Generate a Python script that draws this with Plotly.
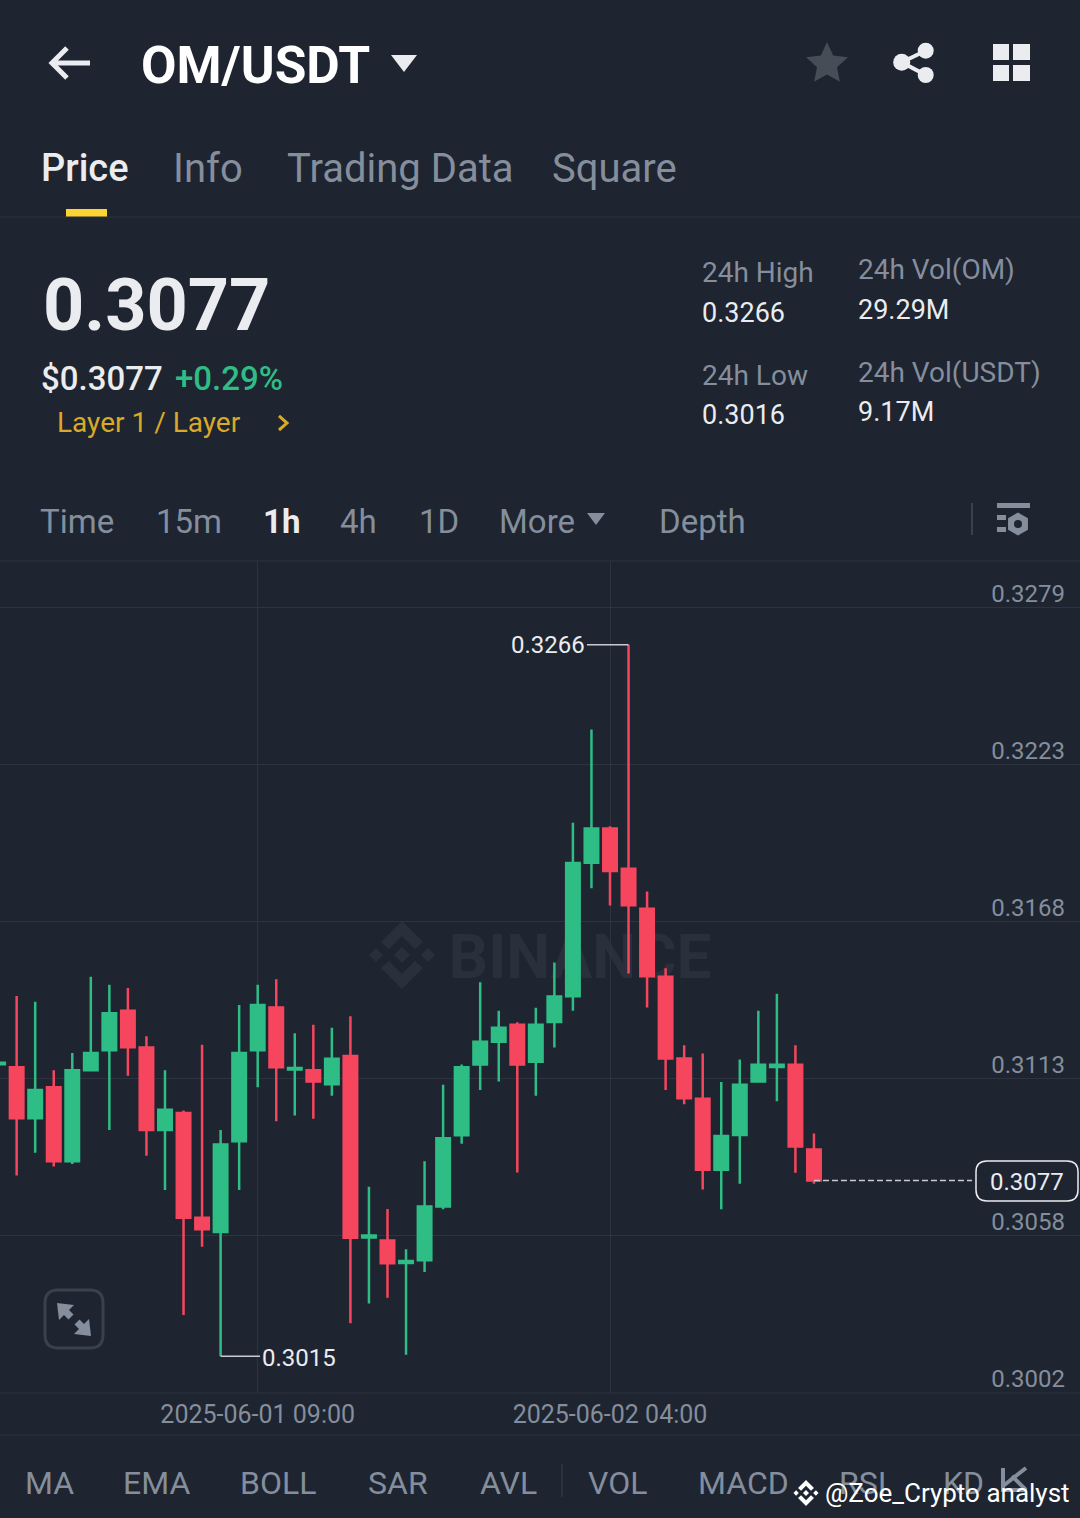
import math
import pandas as pd
import plotly.graph_objects as go

# hourly candles, first one sits just off the left edge
times = pd.date_range("2025-05-31 19:00", periods=45, freq="h")
opens = [0.31180, 0.31169, 0.30989, 0.31099, 0.30838, 0.31159, 0.31229, 0.31369, 0.31239, 0.30948,
         0.31008, 0.30638, 0.30588, 0.30908, 0.31229, 0.31380, 0.31161, 0.31159, 0.31109, 0.31209,
         0.30569, 0.30558, 0.30479, 0.30488, 0.30678, 0.30929, 0.31179, 0.31259, 0.31319, 0.31189,
         0.31329, 0.31420, 0.31891, 0.32012, 0.31870, 0.31729, 0.31489, 0.31200, 0.31058, 0.30808,
         0.30930, 0.31119, 0.31170, 0.31178, 0.30879]
highs = [0.31250, 0.31421, 0.31400, 0.31159, 0.31220, 0.31489, 0.31460, 0.31449, 0.31279, 0.31159,
         0.31017, 0.31249, 0.30948, 0.31389, 0.31460, 0.31480, 0.31289, 0.31319, 0.31309, 0.31349,
         0.30748, 0.30669, 0.30527, 0.30838, 0.31108, 0.31179, 0.31469, 0.31369, 0.31328, 0.31379,
         0.31539, 0.32032, 0.32361, 0.32020, 0.32660, 0.31789, 0.31519, 0.31247, 0.31218, 0.31117,
         0.31197, 0.31369, 0.31429, 0.31247, 0.30936]
lows = [0.31100, 0.30787, 0.30868, 0.30819, 0.30828, 0.31159, 0.30948, 0.31139, 0.30857, 0.30736,
        0.30295, 0.30536, 0.30150, 0.30736, 0.31099, 0.30979, 0.30999, 0.30988, 0.31069, 0.30266,
        0.30336, 0.30356, 0.30155, 0.30447, 0.30668, 0.30899, 0.31089, 0.31119, 0.30798, 0.31069,
        0.31239, 0.31369, 0.31801, 0.31740, 0.31500, 0.31380, 0.31089, 0.31039, 0.30738, 0.30668,
        0.30758, 0.31119, 0.31049, 0.30797, 0.30758]
closes = [0.31185, 0.30989, 0.31089, 0.30838, 0.31159, 0.31220, 0.31360, 0.31240, 0.30948, 0.31019,
          0.30638, 0.30598, 0.30897, 0.31220, 0.31389, 0.31169, 0.31167, 0.31119, 0.31199, 0.30568,
          0.30576, 0.30478, 0.30486, 0.30678, 0.30919, 0.31169, 0.31259, 0.31309, 0.31179, 0.31319,
          0.31419, 0.31890, 0.32012, 0.31862, 0.31741, 0.31490, 0.31200, 0.31060, 0.30808, 0.30927,
          0.31108, 0.31178, 0.31178, 0.30890, 0.30770]

price_ticks = [0.30020, 0.30574, 0.31128, 0.31682, 0.32236, 0.32790]
price_labels = ["0.3002", "0.3058", "0.3113", "0.3168", "0.3223", "0.3279"]
time_ticks = ["2025-06-01 09:00", "2025-06-02 04:00"]
last_price = 0.3077
day_high = 0.3266
day_low = 0.3015

BG = "#1e2430"
GRID = "#2e343f"
GREY = "#848e9c"
WHITE = "#eaecef"
GREEN = "#2ebd85"
RED = "#f6465d"
FONT = "Roboto"

W, H = 1080, 1518
PX_PER_HOUR = 18.542
t_anchor = pd.Timestamp("2025-06-01 09:00")


def px_time(x):
    return t_anchor + pd.Timedelta(hours=(x - 257.7) / PX_PER_HOUR)


def fx(x):
    return x / W


def fy(y):
    return 1 - y / H


def poly(points, close=True):
    d = "M" + " L".join(f"{fx(x):.5f} {fy(y):.5f}" for x, y in points)
    return d + (" Z" if close else "")


def rrect(x0, y0, x1, y1, r):
    c = lambda x, y: f"{fx(x):.5f} {fy(y):.5f}"
    return (f"M{c(x0 + r, y0)} L{c(x1 - r, y0)} Q{c(x1, y0)} {c(x1, y0 + r)} L{c(x1, y1 - r)} "
            f"Q{c(x1, y1)} {c(x1 - r, y1)} L{c(x0 + r, y1)} Q{c(x0, y1)} {c(x0, y1 - r)} "
            f"L{c(x0, y0 + r)} Q{c(x0, y0)} {c(x0 + r, y0)} Z")


shapes = []


def fill_shape(d, color, layer="above"):
    shapes.append(dict(type="path", path=d, xref="paper", yref="paper", fillcolor=color,
                       line=dict(width=0), layer=layer))


def stroke_shape(d, color, width):
    shapes.append(dict(type="path", path=d, xref="paper", yref="paper",
                       line=dict(color=color, width=width)))


def hline(y, x0=0, x1=W, color=GRID, width=1):
    stroke_shape(poly([(x0, y), (x1, y)], close=False), color, width)


def binance_logo(cx, cy, s, color, layer="above"):
    fill_shape(poly([(cx, cy - 8 * s), (cx + 8 * s, cy), (cx, cy + 8 * s), (cx - 8 * s, cy)]), color, layer)
    for side in (-1, 1):
        ox = cx + side * 26 * s
        fill_shape(poly([(ox, cy - 7 * s), (ox + 7 * s, cy), (ox, cy + 7 * s), (ox - 7 * s, cy)]), color, layer)
        oy = side * s
        fill_shape(poly([(cx, cy + 34 * oy), (cx + 21 * s, cy + 13 * oy), (cx + 13 * s, cy + 6 * oy),
                         (cx, cy + 19 * oy), (cx - 13 * s, cy + 6 * oy), (cx - 21 * s, cy + 13 * oy)]),
                   color, layer)


annotations = []


def label(text, x, y, size, color=GREY, anchor="left", weight=400):
    # left aligned annotations land about 2px right of the asked position
    x = x - 2 if anchor == "left" else x
    annotations.append(dict(text=text, x=fx(x), y=fy(y), xref="paper", yref="paper", showarrow=False,
                            xanchor=anchor, yanchor="middle", borderpad=0,
                            font=dict(family=FONT, size=size, color=color, weight=weight)))


# header
stroke_shape(poly([(90, 63), (52, 63)], close=False), WHITE, 5)
stroke_shape(poly([(67, 48), (52, 63), (67, 78)], close=False), WHITE, 5)
label("OM/USDT", 142, 65, 51.5, "#ffffff", weight=700)
fill_shape(poly([(391, 55), (417, 55), (404, 72)]), WHITE)
star = [(827 + (22 if i % 2 == 0 else 10.5) * math.sin(i * math.pi / 5),
         64 - (22 if i % 2 == 0 else 10.5) * math.cos(i * math.pi / 5)) for i in range(10)]
fill_shape(poly(star), "#474d57")
stroke_shape(poly([(925.7, 50.7), (901.7, 62.3), (925.7, 75)], close=False), WHITE, 4)
for cx, cy, r in [(925.7, 50.7, 8), (901.7, 62.3, 8.5), (925.7, 75, 8)]:
    shapes.append(dict(type="circle", xref="paper", yref="paper", x0=fx(cx - r), x1=fx(cx + r),
                       y0=fy(cy + r), y1=fy(cy - r), fillcolor=WHITE, line=dict(width=0)))
for x0, x1 in [(993, 1009), (1013, 1030)]:
    for y0, y1 in [(44, 60), (65, 81)]:
        fill_shape(poly([(x0, y0), (x1, y0), (x1, y1), (x0, y1)]), WHITE)

# page tabs
label("Price", 42, 168, 38, WHITE, weight=500)
label("Info", 174, 168, 40)
label("Trading Data", 288, 168, 40)
label("Square", 553, 168, 40)
fill_shape(poly([(66, 209), (107, 209), (107, 217), (66, 217)]), "#fcd535")
hline(217)

# price block
label("0.3077", 44, 305, 72, WHITE, weight=700)
label("$0.3077", 42, 378, 33, WHITE, weight=500)
label("+0.29%", 176, 378, 33, GREEN, weight=500)
label("Layer 1 / Layer", 58, 423, 28, "#d9a928")
stroke_shape(poly([(279, 416), (287, 423), (279, 430)], close=False), "#d9a928", 3)
label("24h High", 703, 273, 28)
label("0.3266", 703, 313, 27, WHITE)
label("24h Low", 703, 375, 28)
label("0.3016", 703, 415, 27, WHITE)
label("24h Vol(OM)", 859, 270, 28)
label("29.29M", 859, 310, 27, WHITE)
label("24h Vol(USDT)", 859, 372, 28)
label("9.17M", 859, 412, 27, WHITE)

# interval tabs
label("Time", 41, 521, 33)
label("15m", 157, 521, 33)
label("1h", 264, 521, 33, WHITE, weight=700)
label("4h", 341, 521, 33)
label("1D", 420, 521, 33)
label("More", 500, 521, 33)
fill_shape(poly([(587, 513), (605, 513), (596, 525)]), GREY)
label("Depth", 660, 521, 33)
stroke_shape(poly([(972, 503), (972, 535)], close=False), "#3a414d", 2)
fill_shape(poly([(997, 503), (1030, 503), (1030, 508), (997, 508)]), GREY)
fill_shape(poly([(997, 515), (1006, 515), (1006, 520), (997, 520)]), GREY)
fill_shape(poly([(997, 527), (1006, 527), (1006, 532), (997, 532)]), GREY)
hexagon = [(1018 + 11.5 * math.sin(i * math.pi / 3), 524 - 11.5 * math.cos(i * math.pi / 3)) for i in range(6)]
fill_shape(poly(hexagon), GREY)
shapes.append(dict(type="circle", xref="paper", yref="paper", x0=fx(1014), x1=fx(1022),
                   y0=fy(528), y1=fy(520), fillcolor=BG, line=dict(width=0)))
hline(561)
hline(1393)

# watermark behind the candles
binance_logo(402, 955, 1, "#2a303b", layer="below")
shapes.append(dict(type="rect", xref="paper", yref="paper", x0=fx(450), x1=fx(710), y0=fy(982), y1=fy(922),
                   line=dict(width=0), layer="below",
                   label=dict(text="BINANCE", textposition="middle center",
                              font=dict(family=FONT, size=62, color="#2a303b", weight=700))))

# leaders and last price marker, tied to the data
shapes.append(dict(type="line", xref="x", yref="y", x0="2025-06-02 05:00", x1=px_time(587), y0=day_high, y1=day_high,
                   line=dict(color="#c8ccd2", width=1.5)))
shapes.append(dict(type="line", xref="x", yref="y", x0="2025-06-01 07:00", x1=px_time(260), y0=day_low, y1=day_low,
                   line=dict(color="#c8ccd2", width=1.5)))
shapes.append(dict(type="line", xref="x", yref="y", x0=times[-1], x1=px_time(972), y0=last_price, y1=last_price,
                   line=dict(color="#c8ccd2", width=1.5, dash="6px,3px")))
annotations.append(dict(text=str(day_high), x=px_time(586), y=day_high, xref="x", yref="y", showarrow=False,
                        xanchor="right", yanchor="middle", borderpad=0, font=dict(family=FONT, size=24, color=WHITE)))
annotations.append(dict(text=str(day_low), x=px_time(261), y=day_low, xref="x", yref="y", showarrow=False, yshift=-2,
                        xanchor="left", yanchor="middle", borderpad=0, font=dict(family=FONT, size=24, color=WHITE)))
stroke = rrect(976, 1161, 1078, 1201, 11)
shapes.append(dict(type="path", path=stroke, xref="paper", yref="paper", fillcolor=BG,
                   line=dict(color=WHITE, width=1.5)))
label(str(last_price), 1027, 1182, 24, WHITE, anchor="center")

# expand button
stroke_shape(rrect(45, 1290, 103, 1348, 13), "#3a414d", 3)
fill_shape(poly([(57, 1303), (74, 1305), (59, 1320)]), GREY)
stroke_shape(poly([(63, 1309), (71, 1317)], close=False), GREY, 7)
fill_shape(poly([(91, 1336), (74, 1334), (89, 1319)]), GREY)
stroke_shape(poly([(85, 1330), (77, 1322)], close=False), GREY, 7)

# indicator tabs
hline(1435)
label("MA", 26, 1483, 32)
label("EMA", 124, 1483, 32)
label("BOLL", 241, 1483, 32)
label("SAR", 369, 1483, 32)
label("AVL", 481, 1483, 32)
label("VOL", 589, 1483, 32)
label("MACD", 699, 1483, 32)
label("RSI", 840, 1483, 32)
label("KD", 944, 1483, 32)
stroke_shape(poly([(562, 1464), (562, 1497)], close=False), "#2c323d", 2)
stroke_shape(poly([(1003, 1468), (1003, 1490), (1027, 1490)], close=False), GREY, 4)
stroke_shape(poly([(1003, 1486), (1026, 1468)], close=False), GREY, 4)
stroke_shape(poly([(1012, 1476), (1026, 1490)], close=False), GREY, 4)

# repost credit on top of the tabs
binance_logo(806, 1493, 0.38, "#ffffff")
label("@Zoe_Crypto analyst", 826, 1493, 26, "#ffffff")

fig = go.Figure()
fig.add_trace(go.Candlestick(
    x=times,
    open=opens,
    high=highs,
    low=lows,
    close=closes,
    increasing=dict(line=dict(color=GREEN, width=2.5), fillcolor=GREEN),
    decreasing=dict(line=dict(color=RED, width=2.5), fillcolor=RED),
    showlegend=False,
))

fig.update_layout(
    width=W,
    height=H,
    margin=dict(l=0, r=0, t=0, b=0),
    paper_bgcolor=BG,
    plot_bgcolor=BG,
    boxgap=0.272,
    boxgroupgap=0,
    showlegend=False,
    shapes=shapes,
    annotations=annotations,
    xaxis=dict(
        type="date",
        range=[px_time(0), px_time(W)],
        rangeslider=dict(visible=False),
        tickmode="array",
        tickvals=time_ticks,
        ticktext=time_ticks,
        tickfont=dict(family=FONT, size=25, color=GREY),
        ticklen=0,
        ticklabelstandoff=4,
        showgrid=True,
        gridcolor=GRID,
        gridwidth=1,
        zeroline=False,
        showline=False,
    ),
    yaxis=dict(
        domain=[fy(1393), fy(562)],
        range=[0.3002, 0.32952],
        side="right",
        tickmode="array",
        tickvals=price_ticks,
        ticktext=price_labels,
        ticklabelposition="inside",
        ticklabeloverflow="allow",
        ticklabelshift=-14,
        ticklabelstandoff=12,
        tickfont=dict(family=FONT, size=24, color=GREY),
        ticklen=0,
        showgrid=True,
        gridcolor=GRID,
        gridwidth=1,
        zeroline=False,
        showline=False,
    ),
)

# the page's default body margin would shift the photographed figure
fig.write_html("out.html", config=dict(displayModeBar=False), post_script="document.body.style.margin='0';")
